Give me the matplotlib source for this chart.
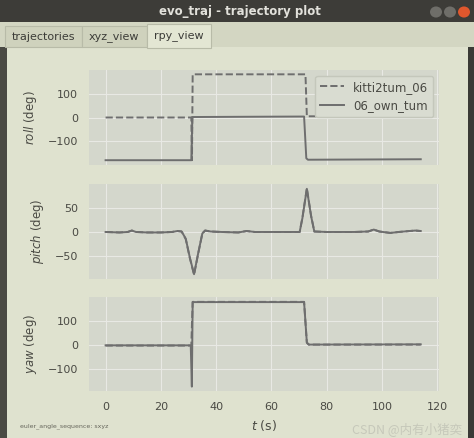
import matplotlib
matplotlib.use("Agg")
import matplotlib.pyplot as plt
from matplotlib.patches import Rectangle, Circle

# ---------------- data ----------------
roll_kitti_t = [0, 31.0, 31.25, 31.5, 72.3, 72.8, 114]
roll_kitti_v = [0, 0, -178, 180, 180, 5, 5]
roll_own_t = [0, 31.0, 31.4, 50, 71.8, 72.6, 73.2, 114]
roll_own_v = [-178, -178, 2, 3, 4, -170, -176, -174]

pitch_t = [0, 5, 8, 9.5, 11, 15, 20, 24, 26, 27.5, 29, 30.5, 32, 33.5, 35, 36, 38,
           42, 48, 51, 54, 60, 66, 70.2, 71.2, 72.8, 74.3, 75.5, 80, 90, 95, 97,
           99, 103, 106, 110, 112, 114]
pitch_kitti_v = [0, -1, 0, 3, 0, -1, -1, 0, 2, 1, -15, -55, -89, -45, -3, 3, 1,
                 0, -1, 2, 0, 0, 0, 0, 30, 91, 35, 1, 0, 0, 1, 5, 1, -2, 0, 2, 3, 2]
pitch_own_v = [0, -1, 0, 3, 0, -1, -1, 0, 2, 1, -14, -54, -88, -44, -3, 3, 1,
               0, -1, 2, 0, 0, 0, 0, 29, 90, 34, 1, 0, 0, 1, 5, 1, -2, 0, 2, 3, 2]

yaw_kitti_t = [0, 31.0, 31.5, 71.8, 72.8, 73.5, 114]
yaw_kitti_v = [-2, -2, 178, 178, 10, 2, 2]
yaw_own_t = [0, 30.8, 31.2, 31.5, 71.8, 72.8, 73.5, 114]
yaw_own_v = [-1, -1, -171, 177, 177, 10, 2, 3]

series_labels = ["kitti2tum_06", "06_own_tum"]
ylabels = ["$roll$ (deg)", "$pitch$ (deg)", "$yaw$ (deg)"]
roll_ticks = [-100, 0, 100]
pitch_ticks = [-50, 0, 50]
yaw_ticks = [-100, 0, 100]
x_ticks = [0, 20, 40, 60, 80, 100, 120]

# ---------------- style ----------------
BG = "#dfe2cf"
AX_BG = "#d4d7cc"
LINE = "#6e6e6e"
TXT = "#4a4a44"

W, H = 474, 438
fig = plt.figure(figsize=(W / 100, H / 100), dpi=100)
fig.patch.set_facecolor(BG)

def px_rect(x0, y0, x1, y1, **kw):
    fig.patches.append(Rectangle((x0 / W, 1 - y1 / H), (x1 - x0) / W, (y1 - y0) / H,
                                 transform=fig.transFigure, figure=fig, **kw))

# window chrome
px_rect(0, 0, W, 22, facecolor="#3d3c38", edgecolor="none", zorder=0)
px_rect(0, 22, W, 47, facecolor="#d3d6c2", edgecolor="none", zorder=0)
px_rect(0, 47, 7, H, facecolor="#4a4a44", edgecolor="none", zorder=0)
px_rect(468, 47, W, H, facecolor="#3a3a36", edgecolor="none", zorder=0)
px_rect(5, 26, 82, 47, facecolor="#cfd2bd", edgecolor="#b8bba8", lw=0.8, zorder=0)
px_rect(82, 26, 147, 47, facecolor="#cfd2bd", edgecolor="#b8bba8", lw=0.8, zorder=0)
px_rect(147, 24, 211, 48, facecolor="#e3e6d3", edgecolor="#b8bba8", lw=0.8, zorder=0)
fig.text(240 / W, 1 - 12 / H, "evo_traj - trajectory plot", ha="center", va="center",
         color="#e2e1db", fontsize=8.5, fontweight="bold")
for cx, col in [(436, "#6f6e69"), (450, "#6f6e69"), (464, "#e0572d")]:
    fig.patches.append(Circle((cx / W, 1 - 12 / H), 6 / W, transform=fig.transFigure,
                              figure=fig, facecolor=col, edgecolor="none"))
fig.text(43 / W, 1 - 37 / H, "trajectories", ha="center", va="center", color="#3c3c38", fontsize=8)
fig.text(114 / W, 1 - 37 / H, "xyz_view", ha="center", va="center", color="#3c3c38", fontsize=8)
fig.text(179 / W, 1 - 36 / H, "rpy_view", ha="center", va="center", color="#3c3c38", fontsize=8)

# axes
left, width = 89 / W, 350 / W
tops = [70, 184, 297]
bottoms = [165, 279, 391]
axes = []
for t, b in zip(tops, bottoms):
    ax = fig.add_axes([left, 1 - b / H, width, (b - t) / H])
    ax.set_facecolor(AX_BG)
    for s in ax.spines.values():
        s.set_visible(False)
    ax.grid(True, color="#e8e9e4", lw=0.8)
    ax.set_axisbelow(True)
    ax.tick_params(length=0, pad=8, labelsize=8, colors=TXT)
    axes.append(ax)

ax1, ax2, ax3 = axes
ax1.plot(roll_kitti_t, roll_kitti_v, ls="--", color=LINE, lw=1.4, label=series_labels[0])
ax1.plot(roll_own_t, roll_own_v, ls="-", color=LINE, lw=1.4, label=series_labels[1])
ax2.plot(pitch_t, pitch_kitti_v, ls="--", color=LINE, lw=1.4)
ax2.plot(pitch_t, pitch_own_v, ls="-", color=LINE, lw=1.4)
ax3.plot(yaw_kitti_t, yaw_kitti_v, ls="--", color=LINE, lw=1.4)
ax3.plot(yaw_own_t, yaw_own_v, ls="-", color=LINE, lw=1.4)

for ax, yt, yl in zip(axes, [roll_ticks, pitch_ticks, yaw_ticks], ylabels):
    ax.set_yticks(yt)
    ax.set_xticks(x_ticks)
    ax.set_xlim(-6, 120.6)
    ax.set_ylabel(yl, fontsize=8.5, color=TXT, labelpad=6)
ax1.set_ylim(-198, 198)
ax2.set_ylim(-98, 100)
ax3.set_ylim(-189, 198)
ax1.tick_params(labelbottom=False)
ax2.tick_params(labelbottom=False)
ax3.set_xlabel("$t$ (s)", fontsize=9, color=TXT, labelpad=4)

leg = ax1.legend(loc="upper right", fontsize=8.5, frameon=True, facecolor="#d9dcd1",
                 edgecolor="#c4c7bb", framealpha=1)
for tx in leg.get_texts():
    tx.set_color(TXT)

fig.text(20 / W, 1 - 426 / H, "euler_angle_sequence: sxyz", fontsize=4.5, color="#66665c",
         va="center")
fig.text(462 / W, 1 - 429 / H, "CSDN @内有小猪奕", fontsize=9, color="#c6c8ba",
         ha="right", va="center", family=["Noto Sans CJK SC", "DejaVu Sans"])

fig.savefig("out.png", dpi=100, facecolor=fig.get_facecolor())
